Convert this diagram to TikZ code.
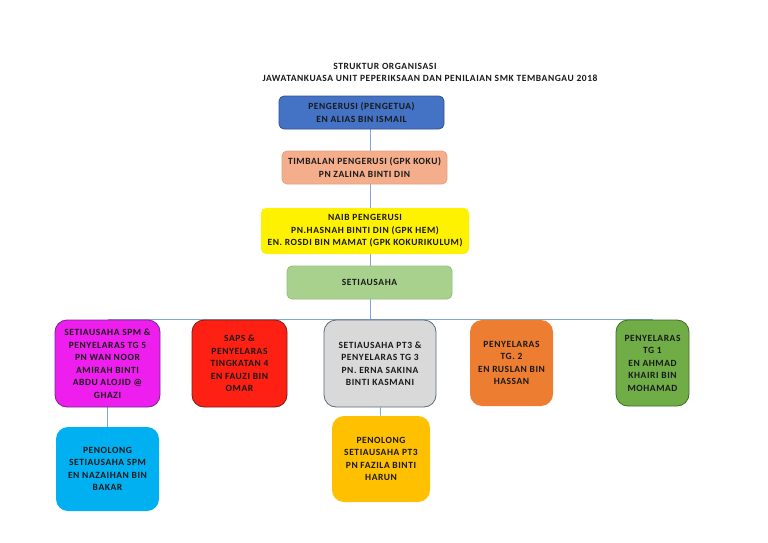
\documentclass[tikz,border=0pt]{standalone}
\usepackage{fontspec}
\setmainfont{Carlito}[LetterSpace=6]
\usetikzlibrary{backgrounds}
\definecolor{linkblue}{HTML}{7EA6D8}
\definecolor{chairblue}{HTML}{4472C4}
\definecolor{chairedge}{HTML}{2F528F}
\definecolor{salmon}{HTML}{F5AE8C}
\definecolor{salmonedge}{HTML}{E8A080}
\definecolor{paleleaf}{HTML}{A9D18E}
\definecolor{paleleafedge}{HTML}{93BE78}
\definecolor{pinkbox}{HTML}{EE1EEE}
\definecolor{pinkedge}{HTML}{6A2A8A}
\definecolor{redbox}{HTML}{FF2014}
\definecolor{rededge}{HTML}{7A1A14}
\definecolor{greybox}{HTML}{D9D9D9}
\definecolor{greyedge}{HTML}{5A6A80}
\definecolor{orangebox}{HTML}{ED7D31}
\definecolor{leafbox}{HTML}{70AD47}
\definecolor{leafedge}{HTML}{3E6B28}
\definecolor{skybox}{HTML}{00B0F0}
\definecolor{amberbox}{HTML}{FFC000}
\begin{document}
\begin{tikzpicture}[x=1pt,y=-1pt,
    font=\fontsize{9.5}{12.5}\selectfont\bfseries, text=black!90,
    topbox/.style={rounded corners=5pt,minimum width=165pt,minimum height=33pt,inner sep=0pt,align=center,line width=0.8pt},
    rowbox/.style={rounded corners=12pt,inner sep=0pt,align=center,line width=0.8pt},
    link/.style={draw=linkblue,line width=0.8pt} ]
    \useasboundingbox (0,0) rectangle (768,543);
    \node at (385,66) (title1) {STRUKTUR ORGANISASI};
    \node at (430,78) (title2) {JAWATANKUASA UNIT PEPERIKSAAN DAN PENILAIAN SMK TEMBANGAU 2018};
    % atas
    \node at (361.5,112.5) [topbox,fill=chairblue,draw=chairedge] (pengerusi) {PENGERUSI (PENGETUA)\\EN ALIAS BIN ISMAIL};
    \node at (364.5,167.5) [topbox,fill=salmon,draw=salmonedge] (timbalan) {TIMBALAN PENGERUSI (GPK KOKU)\\PN ZALINA BINTI DIN};
    \node at (365,231) [topbox,fill=yellow,minimum width=208pt,minimum height=46pt] (naib) {NAIB PENGERUSI\\PN.HASNAH BINTI DIN (GPK HEM)\\EN. ROSDI BIN MAMAT (GPK KOKURIKULUM)};
    \node at (369.5,282.5) [topbox,fill=paleleaf,draw=paleleafedge] (setiausaha) {SETIAUSAHA};
    % baris
    \node at (107.5,363.5) [rowbox,fill=pinkbox,draw=pinkedge,minimum width=105pt,minimum height=87pt] (spm) {SETIAUSAHA SPM \&\\PENYELARAS TG 5\\PN WAN NOOR\\AMIRAH BINTI\\ABDU ALOJID @\\GHAZI};
    \node at (239.5,363.5) [rowbox,fill=redbox,draw=rededge,minimum width=95pt,minimum height=87pt] (saps) {SAPS \&\\PENYELARAS\\TINGKATAN 4\\EN FAUZI BIN\\OMAR};
    \node at (380,363.5) [rowbox,fill=greybox,draw=greyedge,minimum width=112pt,minimum height=87pt] (pt3) {SETIAUSAHA PT3 \&\\PENYELARAS TG 3\\PN. ERNA SAKINA\\BINTI KASMANI};
    \node at (511.5,363) [rowbox,fill=orangebox,minimum width=83pt,minimum height=86pt] (tg2) {PENYELARAS\\TG. 2\\EN RUSLAN BIN\\HASSAN};
    \node at (652.5,363) [rowbox,fill=leafbox,draw=leafedge,minimum width=73pt,minimum height=86pt] (tg1) {PENYELARAS\\TG 1\\EN AHMAD\\KHAIRI BIN\\MOHAMAD};
    % bawah
    \node at (107.5,469) [rowbox,fill=skybox,minimum width=103pt,minimum height=84pt] (penolongspm) {PENOLONG\\SETIAUSAHA SPM\\EN NAZAIHAN BIN\\BAKAR};
    \node at (381,459) [rowbox,fill=amberbox,minimum width=98pt,minimum height=86pt] (penolongpt3) {PENOLONG\\SETIAUSAHA PT3\\PN FAZILA BINTI\\HARUN};
    \coordinate (hub) at (370,320);
    \begin{scope}[on background layer]
    \draw [link] (pengerusi.south -| hub) to (hub);
    \draw [link] (spm.north) to (tg1.north);
    \draw [link] (spm) to (penolongspm);
    \draw [link] (pt3) to (penolongpt3);
    \end{scope}
\end{tikzpicture}
\end{document}
